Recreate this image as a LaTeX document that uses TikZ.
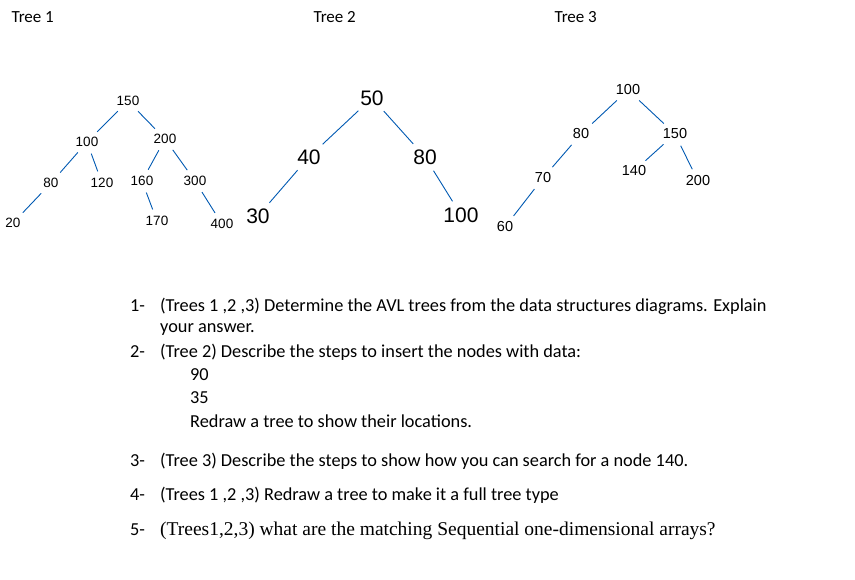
\documentclass[tikz,border=0pt]{standalone}
\usepackage{fontspec}
\setmainfont{Carlito}
\newfontfamily\arialf{Liberation Sans}
\newfontfamily\timesf{Liberation Serif}
\begin{document}
\begin{tikzpicture}[x=1pt,y=-1pt,
  ta/.style={font=\arialf\fontsize{13.5}{15}\selectfont, inner sep=1pt},
  tb/.style={font=\arialf\fontsize{21}{23}\selectfont, inner sep=1pt},
  tc/.style={font=\arialf\fontsize{14.5}{16}\selectfont, inner sep=1pt},
  edge/.style={draw=blue!50!cyan!70!black, line width=0.9pt, shorten <=6pt, shorten >=6pt},
  q/.style={anchor=base west, font=\fontsize{18.3}{20}\selectfont, inner sep=0pt}]
\useasboundingbox (0,0) rectangle (855,579);
\node[anchor=west, font=\fontsize{17}{19}\selectfont] (t1) at (8,17) {Tree 1};
\node[anchor=west, font=\fontsize{17}{19}\selectfont] (t2) at (310,17) {Tree 2};
\node[anchor=west, font=\fontsize{17}{19}\selectfont] (t3) at (551,17) {Tree 3};
% Tree 1
\node[ta] (a150) at (128,101) {150};
\node[ta] (a100) at (87,142) {100};
\node[ta] (a200) at (165,139) {200};
\node[ta] (a80) at (51,183) {80};
\node[ta] (a120) at (102,183) {120};
\node[ta] (a160) at (142,181) {160};
\node[ta] (a300) at (195,181) {300};
\node[ta] (a20) at (13,223) {20};
\node[ta] (a170) at (157,221) {170};
\node[ta] (a400) at (222,224) {400};
\foreach \u/\v in {a150/a100,a150/a200,a100/a80,a100/a120,a200/a160,a200/a300,a80/a20,a160/a170,a300/a400}
  \draw[edge] (\u) -- (\v);
% Tree 2
\node[tb] (b50) at (372,98) {50};
\node[tb] (b40) at (309,157) {40};
\node[tb] (b80) at (425,157) {80};
\node[tb] (b30) at (258,216) {30};
\node[tb] (b100) at (461,215) {100};
\foreach \u/\v in {b50/b40,b50/b80,b40/b30,b80/b100}
  \draw[edge] (\u) -- (\v);
% Tree 3
\node[tc] (c100) at (628,90) {100};
\node[tc] (c80) at (581,134) {80};
\node[tc] (c150) at (675,134) {150};
\node[tc] (c70) at (543,178) {70};
\node[tc] (c140) at (634,171) {140};
\node[tc] (c200) at (698,181) {200};
\node[tc] (c60) at (505,227) {60};
\foreach \u/\v in {c100/c80,c100/c150,c80/c70,c70/c60,c150/c140,c150/c200}
  \draw[edge] (\u) -- (\v);
% Questions
\node[q] (n1) at (130,311) {1-};
\node[q] (q1) at (160,311) {(Trees 1 ,2 ,3) Determine the AVL trees from the data structures diagrams. Explain};
\node[q] (q1b) at (160,332) {your answer.};
\node[q] (n2) at (130,357) {2-};
\node[q] (q2) at (160,357) {(Tree 2) Describe the steps to insert the nodes with data:};
\node[q] (q2a) at (190,380) {90};
\node[q] (q2b) at (190,403) {35};
\node[q] (q2c) at (190,427) {Redraw a tree to show their locations.};
\node[q] (n3) at (130,466) {3-};
\node[q] (q3) at (160,466) {(Tree 3) Describe the steps to show how you can search for a node 140.};
\node[q] (n4) at (130,500) {4-};
\node[q] (q4) at (160,500) {(Trees 1 ,2 ,3) Redraw a tree to make it a full tree type};
\node[q] (n5) at (130,535) {5-};
\node[q, font=\timesf\fontsize{19.5}{21}\selectfont] (q5) at (160,535) {(Trees1,2,3) what are the matching Sequential one-dimensional arrays?};
\end{tikzpicture}
\end{document}
